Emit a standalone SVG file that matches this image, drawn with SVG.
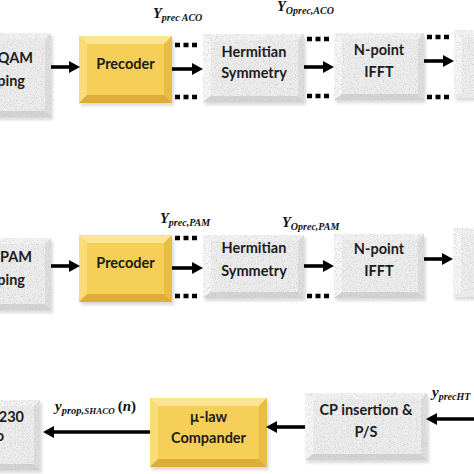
<svg xmlns="http://www.w3.org/2000/svg" width="474" height="474" viewBox="0 0 474 474">
<style>
.lbl{font-family:Lato,"Open Sans","Liberation Sans",sans-serif;font-weight:bold;font-size:14.5px;fill:#1c1c1c;text-anchor:middle}
.lble{font-family:Lato,"Open Sans","Liberation Sans",sans-serif;font-weight:bold;font-size:14.5px;fill:#1c1c1c;text-anchor:end}
.math{font-family:"Liberation Serif","DejaVu Serif",serif;font-style:italic;font-weight:bold;fill:#111}
.face{fill:#ededed}
.bl{fill:#f7f7f7}
.bt{fill:#f3f3f3}
.br{fill:#dedede}
.bb{fill:#d4d4d4}
.gface{fill:#f6cf58}
.gl{fill:#f9db78}
.gt{fill:#fce592}
.gr{fill:#e8bd42}
.gb{fill:#dcae36}
.arr{stroke:#000;stroke-width:3.6;fill:none;marker-end:url(#ah)}
.dots{stroke:#000;stroke-width:4.5;stroke-dasharray:5 3.5;fill:none}
.shadow{fill:#bdbdbd;opacity:0.55}
</style>
<defs>
<marker id="ah" markerUnits="userSpaceOnUse" markerWidth="11" markerHeight="12" refX="0" refY="6" orient="auto">
<path d="M0,0 L11,6 L0,12 z" fill="#000"/>
</marker>
<filter id="grain" x="0" y="0" width="1" height="1">
<feTurbulence type="fractalNoise" baseFrequency="0.85" numOctaves="2" seed="4" result="n"/>
<feColorMatrix in="n" type="matrix" values="0 0 0 0 0.45  0 0 0 0 0.45  0 0 0 0 0.45  1.5 0 0 0 -0.72" result="g"/>
<feComposite in="g" in2="SourceAlpha" operator="in"/>
</filter>
<filter id="blur"><feGaussianBlur stdDeviation="1.5"/></filter>
</defs>

<!-- Row 1 -->
<g id="qam-mapping">
<rect class="shadow" x="-8" y="36" width="61" height="84" filter="url(#blur)"/>
<rect class="face" x="-10" y="33" width="61" height="84"/>
<polygon class="br" points="51,33 45,39 45,111 51,117"/>
<polygon class="bb" points="-10,117 -4,111 45,111 51,117"/>
<polygon class="bt" points="-10,33 51,33 45,39 -4,39"/>
<rect x="-10" y="33" width="61" height="84" fill="#000" filter="url(#grain)"/>
<text class="lble" x="33" y="63">QAM</text>
<text class="lble" x="25" y="86">ping</text>
</g>
<g id="precoder-1">
<rect class="shadow" x="81" y="39" width="93" height="67" filter="url(#blur)"/>
<rect class="gface" x="79" y="36" width="93" height="67"/>
<polygon class="gt" points="79,36 172,36 164,44 87,44"/>
<polygon class="gl" points="79,36 87,44 87,95 79,103"/>
<polygon class="gr" points="172,36 172,103 164,95 164,44"/>
<polygon class="gb" points="79,103 87,95 164,95 172,103"/>
<text class="lbl" x="125.5" y="69">Precoder</text>
</g>
<g id="hermitian-1">
<rect class="shadow" x="205" y="37" width="101" height="68" filter="url(#blur)"/>
<rect class="face" x="203" y="34" width="101" height="68"/>
<polygon class="bt" points="203,34 304,34 298,40 211,40"/>
<polygon class="bl" points="203,34 211,40 211,96 203,102"/>
<polygon class="br" points="304,34 304,102 298,96 298,40"/>
<polygon class="bb" points="203,102 211,96 298,96 304,102"/>
<rect x="203" y="34" width="101" height="68" fill="#000" filter="url(#grain)"/>
<text class="lbl" x="254" y="57">Hermitian</text>
<text class="lbl" x="254" y="78">Symmetry</text>
</g>
<g id="ifft-1">
<rect class="shadow" x="336" y="36" width="90" height="67" filter="url(#blur)"/>
<rect class="face" x="334" y="33" width="90" height="67"/>
<polygon class="bt" points="334,33 424,33 418,39 342,39"/>
<polygon class="bl" points="334,33 342,39 342,94 334,100"/>
<polygon class="br" points="424,33 424,100 418,94 418,39"/>
<polygon class="bb" points="334,100 342,94 418,94 424,100"/>
<rect x="334" y="33" width="90" height="67" fill="#000" filter="url(#grain)"/>
<text class="lbl" x="379" y="55">N-point</text>
<text class="lbl" x="379" y="77">IFFT</text>
</g>
<g id="right-1">
<rect class="shadow" x="456" y="33" width="30" height="68" filter="url(#blur)"/>
<rect class="face" x="454" y="30" width="30" height="68"/>
<polygon class="bl" points="454,30 462,37 462,92 454,98"/>
<polygon class="bt" points="454,30 484,30 484,37 462,37"/>
<rect x="454" y="30" width="30" height="68" fill="#000" filter="url(#grain)"/>
</g>

<!-- Row 2 -->
<g id="pam-mapping">
<rect class="shadow" x="-8" y="241" width="61" height="72" filter="url(#blur)"/>
<rect class="face" x="-10" y="238" width="61" height="72"/>
<polygon class="br" points="51,238 45,244 45,304 51,310"/>
<polygon class="bb" points="-10,310 -4,304 45,304 51,310"/>
<polygon class="bt" points="-10,238 51,238 45,244 -4,244"/>
<rect x="-10" y="238" width="61" height="72" fill="#000" filter="url(#grain)"/>
<text class="lble" x="32" y="262">PAM</text>
<text class="lble" x="25" y="285">ping</text>
</g>
<g id="precoder-2">
<rect class="shadow" x="81" y="238" width="93" height="67" filter="url(#blur)"/>
<rect class="gface" x="79" y="235" width="93" height="67"/>
<polygon class="gt" points="79,235 172,235 164,243 87,243"/>
<polygon class="gl" points="79,235 87,243 87,294 79,302"/>
<polygon class="gr" points="172,235 172,302 164,294 164,243"/>
<polygon class="gb" points="79,302 87,294 164,294 172,302"/>
<text class="lbl" x="125.5" y="268">Precoder</text>
</g>
<g id="hermitian-2">
<rect class="shadow" x="205" y="238" width="101" height="63" filter="url(#blur)"/>
<rect class="face" x="203" y="235" width="101" height="63"/>
<polygon class="bt" points="203,235 304,235 298,241 211,241"/>
<polygon class="bl" points="203,235 211,241 211,292 203,298"/>
<polygon class="br" points="304,235 304,298 298,292 298,241"/>
<polygon class="bb" points="203,298 211,292 298,292 304,298"/>
<rect x="203" y="235" width="101" height="63" fill="#000" filter="url(#grain)"/>
<text class="lbl" x="254" y="253">Hermitian</text>
<text class="lbl" x="254" y="276">Symmetry</text>
</g>
<g id="ifft-2">
<rect class="shadow" x="336" y="237" width="90" height="64" filter="url(#blur)"/>
<rect class="face" x="334" y="234" width="90" height="64"/>
<polygon class="bt" points="334,234 424,234 418,240 342,240"/>
<polygon class="bl" points="334,234 342,240 342,292 334,298"/>
<polygon class="br" points="424,234 424,298 418,292 418,240"/>
<polygon class="bb" points="334,298 342,292 418,292 424,298"/>
<rect x="334" y="234" width="90" height="64" fill="#000" filter="url(#grain)"/>
<text class="lbl" x="379" y="254">N-point</text>
<text class="lbl" x="379" y="276">IFFT</text>
</g>
<g id="right-2">
<rect class="shadow" x="455" y="231" width="30" height="69" filter="url(#blur)"/>
<rect class="face" x="453" y="228" width="30" height="69"/>
<polygon class="bl" points="453,228 461,235 461,291 453,297"/>
<polygon class="bt" points="453,228 483,228 483,235 461,235"/>
<rect x="453" y="228" width="30" height="69" fill="#000" filter="url(#grain)"/>
</g>

<!-- Row 3 -->
<g id="output-block">
<rect class="shadow" x="-8" y="403" width="50" height="70" filter="url(#blur)"/>
<rect class="face" x="-10" y="400" width="50" height="70"/>
<polygon class="br" points="40,400 34,406 34,464 40,470"/>
<polygon class="bt" points="-10,400 40,400 34,406 -4,406"/>
<polygon class="bb" points="-10,470 -4,464 34,464 40,470"/>
<rect x="-10" y="400" width="50" height="70" fill="#000" filter="url(#grain)"/>
<text class="lble" x="24" y="422">230</text>
<text class="lble" x="4" y="441">o</text>
</g>
<g id="mulaw-compander">
<rect class="shadow" x="152" y="401" width="117" height="69" filter="url(#blur)"/>
<rect class="gface" x="150" y="398" width="117" height="69"/>
<polygon class="gt" points="150,398 267,398 259,406 158,406"/>
<polygon class="gl" points="150,398 158,406 158,459 150,467"/>
<polygon class="gr" points="267,398 267,467 259,459 259,406"/>
<polygon class="gb" points="150,467 158,459 259,459 267,467"/>
<text class="lbl" x="208.5" y="422">µ-law</text>
<text class="lbl" x="208.5" y="443">Compander</text>
</g>
<g id="cp-insertion">
<rect class="shadow" x="307" y="396" width="122" height="67" filter="url(#blur)"/>
<rect class="face" x="305" y="393" width="122" height="67"/>
<polygon class="bt" points="305,393 427,393 421,399 313,399"/>
<polygon class="bl" points="305,393 313,399 313,454 305,460"/>
<polygon class="br" points="427,393 427,460 421,454 421,399"/>
<polygon class="bb" points="305,460 313,454 421,454 427,460"/>
<rect x="305" y="393" width="122" height="67" fill="#000" filter="url(#grain)"/>
<text class="lbl" x="366" y="415">CP insertion &amp;</text>
<text class="lbl" x="366" y="437">P/S</text>
</g>

<g id="connectors">
<path class="arr" d="M51,67 H69"/>
<path class="arr" d="M172,69 H192"/>
<path class="arr" d="M304,67 H323"/>
<path class="arr" d="M424,61 H443"/>
<path class="dots" d="M175,45 H198"/>
<path class="dots" d="M175,97 H198"/>
<path class="dots" d="M307,39 H330"/>
<path class="dots" d="M307,96 H330"/>
<path class="dots" d="M427,37 H450"/>
<path class="dots" d="M427,97 H450"/>

<path class="arr" d="M51,266 H69"/>
<path class="arr" d="M172,268 H192"/>
<path class="arr" d="M304,266 H323"/>
<path class="arr" d="M424,259 H442"/>
<path class="dots" d="M175,238 H198"/>
<path class="dots" d="M175,296 H198"/>
<path class="dots" d="M307,296 H330"/>

<path class="arr" d="M150,432 H54"/>
<path class="arr" d="M305,427 H277"/>
<path class="arr" d="M474,419 H437"/>
</g>

<g id="labels">
<text class="math" x="153" y="18" font-size="14.5">Y<tspan font-size="10" dy="3">prec ACO</tspan></text>
<text class="math" x="277" y="11" font-size="14.5">Y<tspan font-size="10" dy="3">Oprec,ACO</tspan></text>
<text class="math" x="160" y="223" font-size="14.5">Y<tspan font-size="10" dy="3">prec,PAM</tspan></text>
<text class="math" x="282" y="227" font-size="14.5">Y<tspan font-size="10" dy="3">Oprec,PAM</tspan></text>
<text class="math" x="55" y="411" font-size="15">y<tspan font-size="10.5" dy="3">prop,</tspan><tspan font-size="9">SHACO</tspan><tspan font-size="15" dy="-3" dx="3" font-style="normal">(</tspan><tspan font-size="15">n</tspan><tspan font-size="15" font-style="normal">)</tspan></text>
<text class="math" x="432" y="397" font-size="15">y<tspan font-size="10" dy="3">precHT</tspan></text>
</g>
</svg>
